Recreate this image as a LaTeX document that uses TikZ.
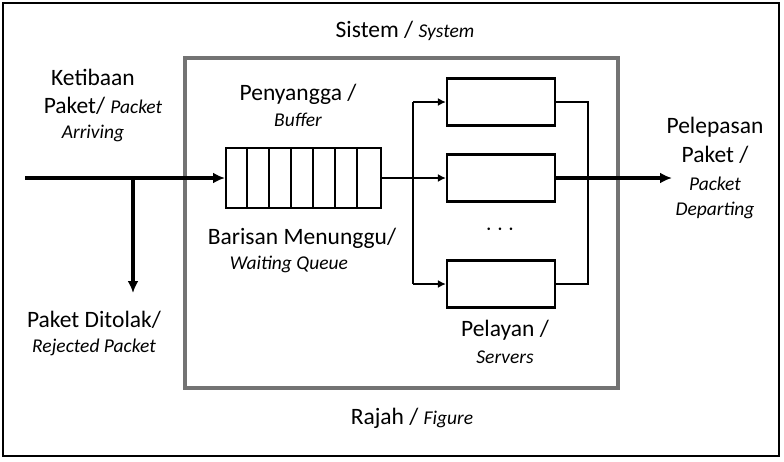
\documentclass[tikz,border=0pt]{standalone}
\usepackage{fontspec}
\setmainfont{Carlito}
\begin{document}
\begin{tikzpicture}[x=1pt,y=-1pt,
  t/.style={font=\fontsize{23.5}{27}\selectfont,inner sep=0pt},
  it/.style={font=\fontsize{19.5}{23}\selectfont\itshape,inner sep=0pt},
  ln/.style={line width=3.5pt},
  ar/.style={line width=3.5pt,-{Latex[length=12pt,width=11pt]}},
  sar/.style={line width=2.2pt,-{Latex[length=8pt,width=8pt]}},
  srv/.style={draw,line width=2.2pt,minimum width=108pt,minimum height=47pt,inner sep=0pt}]
\usetikzlibrary{arrows.meta}
\useasboundingbox (0,0) rectangle (784,461);
\draw[line width=2.5pt] (3,3) rectangle (779,456);
\draw[line width=3.5pt,black!55] (185,58) rectangle (618,388);
% buffer
\node[draw,line width=2.2pt,minimum width=155pt,minimum height=60pt,inner sep=0pt,anchor=west] (buf) at (225,178) {};
\foreach \i in {1,...,6} \draw[line width=2.2pt] (225+22*\i,148) -- (225+22*\i,208);
\node[srv] (s1) at (501,102) {};
\node[srv] (s2) at (501,178) {};
\node[srv] (s3) at (501,284) {};
\coordinate (in) at (25,178);
\coordinate (br) at (133,178);
\coordinate (rej) at (133,293);
\coordinate (out) at (672,178);
\coordinate (sp) at (413,178);
\coordinate (st) at (413,102);
\coordinate (sb) at (413,284);
\coordinate (jt) at (588,102);
\coordinate (jb) at (588,284);
\draw[ar] (in) -- (buf.west);
\draw[ar] (br) -- (rej);
\draw[line width=2.2pt] (buf.east) -- (sp);
\draw[line width=2.2pt] (st) -- (sb);
\draw[sar] (st) -- (s1.west);
\draw[sar] (sp) -- (s2.west);
\draw[sar] (sb) -- (s3.west);
\draw[line width=2.2pt] (s1.east) -- (jt) -- (jb) -- (s3.east);
\draw[ar] (s2.east) -- (out);
\node[t] (dots) at (500,230) {$\cdots$};
\node[t] (sys) at (405,31) {Sistem / \textit{\fontsize{19.5}{23}\selectfont System}};
\node[t] (k1) at (93,77) {Ketibaan};
\node[t] (k2) at (103,106) {Paket/ \textit{\fontsize{19.5}{23}\selectfont Packet}};
\node[it] (k3) at (93,133) {Arriving};
\node[t] (p1) at (298,94) {Penyangga /};
\node[it] (p2) at (298,120) {Buffer};
\node[t] (b1) at (302,238) {Barisan Menunggu/};
\node[it] (b2) at (289,264) {Waiting Queue};
\node[t] (o1) at (715,127) {Pelepasan};
\node[t] (o2) at (715,155) {Paket /};
\node[it] (o3) at (715,184) {Packet};
\node[it] (o4) at (715,210) {Departing};
\node[t] (r1) at (94,320) {Paket Ditolak/};
\node[it] (r2) at (94,347) {Rejected Packet};
\node[t] (v1) at (505,330) {Pelayan /};
\node[it] (v2) at (505,357) {Servers};
\node[t] (fig) at (412,418) {Rajah / \textit{\fontsize{19.5}{23}\selectfont Figure}};
\end{tikzpicture}
\end{document}
